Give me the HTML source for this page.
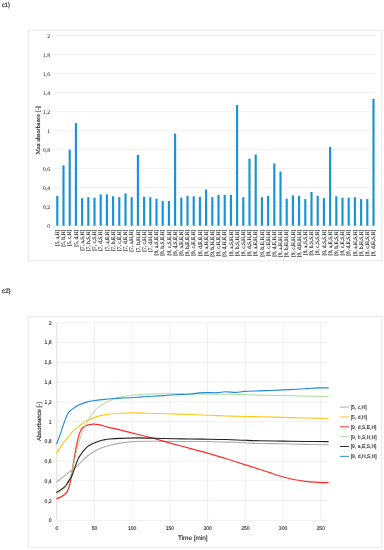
<!DOCTYPE html>
<html><head><meta charset="utf-8"><title>Figure c1 c2</title>
<style>html,body{margin:0;padding:0;background:#fff;}svg{display:block;}text{text-rendering:geometricPrecision;}</style>
</head><body>
<svg width="384" height="550" viewBox="0 0 384 550">
<rect width="384" height="550" fill="#fff"/>
<text transform="translate(2.10 6.50) scale(0.88 1)" text-anchor="start" font-family="'Liberation Sans', sans-serif" font-size="6.3" fill="#1a1a1a" stroke="#1a1a1a" stroke-width="0.2">c1)</text>
<text transform="translate(2.10 293.20) scale(0.97 1)" text-anchor="start" font-family="'Liberation Sans', sans-serif" font-size="6.3" fill="#1a1a1a" stroke="#1a1a1a" stroke-width="0.2">c2)</text>
<rect x="28.5" y="30.2" width="353.3" height="230.6" fill="none" stroke="#dedede" stroke-width="0.7"/>
<line x1="54.3" x2="376.2" y1="225.70" y2="225.70" stroke="#e6e6e6" stroke-width="0.6"/>
<text transform="translate(50.00 227.70)" text-anchor="end" font-family="'Liberation Serif', serif" font-size="5.6" fill="#333" stroke="#333" stroke-width="0.05">0</text>
<line x1="54.3" x2="376.2" y1="206.70" y2="206.70" stroke="#e6e6e6" stroke-width="0.6"/>
<text transform="translate(50.00 208.70)" text-anchor="end" font-family="'Liberation Serif', serif" font-size="5.6" fill="#333" stroke="#333" stroke-width="0.05">0,2</text>
<line x1="54.3" x2="376.2" y1="187.70" y2="187.70" stroke="#e6e6e6" stroke-width="0.6"/>
<text transform="translate(50.00 189.70)" text-anchor="end" font-family="'Liberation Serif', serif" font-size="5.6" fill="#333" stroke="#333" stroke-width="0.05">0,4</text>
<line x1="54.3" x2="376.2" y1="168.70" y2="168.70" stroke="#e6e6e6" stroke-width="0.6"/>
<text transform="translate(50.00 170.70)" text-anchor="end" font-family="'Liberation Serif', serif" font-size="5.6" fill="#333" stroke="#333" stroke-width="0.05">0,6</text>
<line x1="54.3" x2="376.2" y1="149.70" y2="149.70" stroke="#e6e6e6" stroke-width="0.6"/>
<text transform="translate(50.00 151.70)" text-anchor="end" font-family="'Liberation Serif', serif" font-size="5.6" fill="#333" stroke="#333" stroke-width="0.05">0,8</text>
<line x1="54.3" x2="376.2" y1="130.70" y2="130.70" stroke="#e6e6e6" stroke-width="0.6"/>
<text transform="translate(50.00 132.70)" text-anchor="end" font-family="'Liberation Serif', serif" font-size="5.6" fill="#333" stroke="#333" stroke-width="0.05">1</text>
<line x1="54.3" x2="376.2" y1="111.70" y2="111.70" stroke="#e6e6e6" stroke-width="0.6"/>
<text transform="translate(50.00 113.70)" text-anchor="end" font-family="'Liberation Serif', serif" font-size="5.6" fill="#333" stroke="#333" stroke-width="0.05">1,2</text>
<line x1="54.3" x2="376.2" y1="92.70" y2="92.70" stroke="#e6e6e6" stroke-width="0.6"/>
<text transform="translate(50.00 94.70)" text-anchor="end" font-family="'Liberation Serif', serif" font-size="5.6" fill="#333" stroke="#333" stroke-width="0.05">1,4</text>
<line x1="54.3" x2="376.2" y1="73.70" y2="73.70" stroke="#e6e6e6" stroke-width="0.6"/>
<text transform="translate(50.00 75.70)" text-anchor="end" font-family="'Liberation Serif', serif" font-size="5.6" fill="#333" stroke="#333" stroke-width="0.05">1,6</text>
<line x1="54.3" x2="376.2" y1="54.70" y2="54.70" stroke="#e6e6e6" stroke-width="0.6"/>
<text transform="translate(50.00 56.70)" text-anchor="end" font-family="'Liberation Serif', serif" font-size="5.6" fill="#333" stroke="#333" stroke-width="0.05">1,8</text>
<line x1="54.3" x2="376.2" y1="35.70" y2="35.70" stroke="#e6e6e6" stroke-width="0.6"/>
<text transform="translate(50.00 37.70)" text-anchor="end" font-family="'Liberation Serif', serif" font-size="5.6" fill="#333" stroke="#333" stroke-width="0.05">2</text>
<text transform="translate(40.30 130.40) rotate(-90)" text-anchor="middle" font-family="'Liberation Serif', serif" font-size="6.2" fill="#111" stroke="#111" stroke-width="0.12">Max absorbance [-]</text>
<rect x="56.25" y="195.77" width="2.1" height="29.93" fill="#1292d8"/>
<text transform="translate(58.90 229.60) rotate(-90)" text-anchor="end" font-family="'Liberation Serif', serif" font-size="5.45" fill="#222" stroke="#222" stroke-width="0.1">[5, a,H]</text>
<rect x="62.45" y="165.38" width="2.1" height="60.32" fill="#1292d8"/>
<text transform="translate(65.10 229.60) rotate(-90)" text-anchor="end" font-family="'Liberation Serif', serif" font-size="5.45" fill="#222" stroke="#222" stroke-width="0.1">[5, b,H]</text>
<rect x="68.65" y="149.70" width="2.1" height="76.00" fill="#1292d8"/>
<text transform="translate(71.30 229.60) rotate(-90)" text-anchor="end" font-family="'Liberation Serif', serif" font-size="5.45" fill="#222" stroke="#222" stroke-width="0.1">[5, c,H]</text>
<rect x="74.85" y="123.10" width="2.1" height="102.60" fill="#1292d8"/>
<text transform="translate(77.50 229.60) rotate(-90)" text-anchor="end" font-family="'Liberation Serif', serif" font-size="5.45" fill="#222" stroke="#222" stroke-width="0.1">[5, d,H]</text>
<rect x="81.05" y="198.15" width="2.1" height="27.55" fill="#1292d8"/>
<text transform="translate(83.70 229.60) rotate(-90)" text-anchor="end" font-family="'Liberation Serif', serif" font-size="5.45" fill="#222" stroke="#222" stroke-width="0.1">[7, a,S,H]</text>
<rect x="87.25" y="197.20" width="2.1" height="28.50" fill="#1292d8"/>
<text transform="translate(89.90 229.60) rotate(-90)" text-anchor="end" font-family="'Liberation Serif', serif" font-size="5.45" fill="#222" stroke="#222" stroke-width="0.1">[7, b,S,H]</text>
<rect x="93.45" y="197.67" width="2.1" height="28.03" fill="#1292d8"/>
<text transform="translate(96.10 229.60) rotate(-90)" text-anchor="end" font-family="'Liberation Serif', serif" font-size="5.45" fill="#222" stroke="#222" stroke-width="0.1">[7, c,S,H]</text>
<rect x="99.65" y="194.35" width="2.1" height="31.35" fill="#1292d8"/>
<text transform="translate(102.30 229.60) rotate(-90)" text-anchor="end" font-family="'Liberation Serif', serif" font-size="5.45" fill="#222" stroke="#222" stroke-width="0.1">[7, d,S,H]</text>
<rect x="105.85" y="194.35" width="2.1" height="31.35" fill="#1292d8"/>
<text transform="translate(108.50 229.60) rotate(-90)" text-anchor="end" font-family="'Liberation Serif', serif" font-size="5.45" fill="#222" stroke="#222" stroke-width="0.1">[7, a,E,H]</text>
<rect x="112.05" y="196.25" width="2.1" height="29.45" fill="#1292d8"/>
<text transform="translate(114.70 229.60) rotate(-90)" text-anchor="end" font-family="'Liberation Serif', serif" font-size="5.45" fill="#222" stroke="#222" stroke-width="0.1">[7, b,E,H]</text>
<rect x="118.25" y="197.20" width="2.1" height="28.50" fill="#1292d8"/>
<text transform="translate(120.90 229.60) rotate(-90)" text-anchor="end" font-family="'Liberation Serif', serif" font-size="5.45" fill="#222" stroke="#222" stroke-width="0.1">[7, c,E,H]</text>
<rect x="124.45" y="193.40" width="2.1" height="32.30" fill="#1292d8"/>
<text transform="translate(127.10 229.60) rotate(-90)" text-anchor="end" font-family="'Liberation Serif', serif" font-size="5.45" fill="#222" stroke="#222" stroke-width="0.1">[7, d,E,H]</text>
<rect x="130.65" y="197.20" width="2.1" height="28.50" fill="#1292d8"/>
<text transform="translate(133.30 229.60) rotate(-90)" text-anchor="end" font-family="'Liberation Serif', serif" font-size="5.45" fill="#222" stroke="#222" stroke-width="0.1">[7, a,H,H]</text>
<rect x="136.85" y="154.92" width="2.1" height="70.78" fill="#1292d8"/>
<text transform="translate(139.50 229.60) rotate(-90)" text-anchor="end" font-family="'Liberation Serif', serif" font-size="5.45" fill="#222" stroke="#222" stroke-width="0.1">[7, b,H,H]</text>
<rect x="143.05" y="196.72" width="2.1" height="28.97" fill="#1292d8"/>
<text transform="translate(145.70 229.60) rotate(-90)" text-anchor="end" font-family="'Liberation Serif', serif" font-size="5.45" fill="#222" stroke="#222" stroke-width="0.1">[7, c,H,H]</text>
<rect x="149.25" y="197.20" width="2.1" height="28.50" fill="#1292d8"/>
<text transform="translate(151.90 229.60) rotate(-90)" text-anchor="end" font-family="'Liberation Serif', serif" font-size="5.45" fill="#222" stroke="#222" stroke-width="0.1">[7, d,H,H]</text>
<rect x="155.45" y="198.62" width="2.1" height="27.07" fill="#1292d8"/>
<text transform="translate(158.10 229.60) rotate(-90)" text-anchor="end" font-family="'Liberation Serif', serif" font-size="5.45" fill="#222" stroke="#222" stroke-width="0.1">[9, a,S,E,H]</text>
<rect x="161.65" y="201.00" width="2.1" height="24.70" fill="#1292d8"/>
<text transform="translate(164.30 229.60) rotate(-90)" text-anchor="end" font-family="'Liberation Serif', serif" font-size="5.45" fill="#222" stroke="#222" stroke-width="0.1">[9, b,S,E,H]</text>
<rect x="167.85" y="201.00" width="2.1" height="24.70" fill="#1292d8"/>
<text transform="translate(170.50 229.60) rotate(-90)" text-anchor="end" font-family="'Liberation Serif', serif" font-size="5.45" fill="#222" stroke="#222" stroke-width="0.1">[9, c,S,E,H]</text>
<rect x="174.05" y="133.55" width="2.1" height="92.15" fill="#1292d8"/>
<text transform="translate(176.70 229.60) rotate(-90)" text-anchor="end" font-family="'Liberation Serif', serif" font-size="5.45" fill="#222" stroke="#222" stroke-width="0.1">[9, d,S,E,H]</text>
<rect x="180.25" y="197.67" width="2.1" height="28.03" fill="#1292d8"/>
<text transform="translate(182.90 229.60) rotate(-90)" text-anchor="end" font-family="'Liberation Serif', serif" font-size="5.45" fill="#222" stroke="#222" stroke-width="0.1">[9, a,E,E,H]</text>
<rect x="186.45" y="195.77" width="2.1" height="29.93" fill="#1292d8"/>
<text transform="translate(189.10 229.60) rotate(-90)" text-anchor="end" font-family="'Liberation Serif', serif" font-size="5.45" fill="#222" stroke="#222" stroke-width="0.1">[9, b,E,E,H]</text>
<rect x="192.65" y="196.25" width="2.1" height="29.45" fill="#1292d8"/>
<text transform="translate(195.30 229.60) rotate(-90)" text-anchor="end" font-family="'Liberation Serif', serif" font-size="5.45" fill="#222" stroke="#222" stroke-width="0.1">[9, c,E,E,H]</text>
<rect x="198.85" y="196.72" width="2.1" height="28.97" fill="#1292d8"/>
<text transform="translate(201.50 229.60) rotate(-90)" text-anchor="end" font-family="'Liberation Serif', serif" font-size="5.45" fill="#222" stroke="#222" stroke-width="0.1">[9, d,E,E,H]</text>
<rect x="205.05" y="189.60" width="2.1" height="36.10" fill="#1292d8"/>
<text transform="translate(207.70 229.60) rotate(-90)" text-anchor="end" font-family="'Liberation Serif', serif" font-size="5.45" fill="#222" stroke="#222" stroke-width="0.1">[9, a,H,E,H]</text>
<rect x="211.25" y="197.20" width="2.1" height="28.50" fill="#1292d8"/>
<text transform="translate(213.90 229.60) rotate(-90)" text-anchor="end" font-family="'Liberation Serif', serif" font-size="5.45" fill="#222" stroke="#222" stroke-width="0.1">[9, b,H,E,H]</text>
<rect x="217.45" y="194.82" width="2.1" height="30.88" fill="#1292d8"/>
<text transform="translate(220.10 229.60) rotate(-90)" text-anchor="end" font-family="'Liberation Serif', serif" font-size="5.45" fill="#222" stroke="#222" stroke-width="0.1">[9, c,H,E,H]</text>
<rect x="223.65" y="194.82" width="2.1" height="30.88" fill="#1292d8"/>
<text transform="translate(226.30 229.60) rotate(-90)" text-anchor="end" font-family="'Liberation Serif', serif" font-size="5.45" fill="#222" stroke="#222" stroke-width="0.1">[9, d,H,E,H]</text>
<rect x="229.85" y="194.82" width="2.1" height="30.88" fill="#1292d8"/>
<text transform="translate(232.50 229.60) rotate(-90)" text-anchor="end" font-family="'Liberation Serif', serif" font-size="5.45" fill="#222" stroke="#222" stroke-width="0.1">[9, a,S,H,H]</text>
<rect x="236.05" y="105.05" width="2.1" height="120.65" fill="#1292d8"/>
<text transform="translate(238.70 229.60) rotate(-90)" text-anchor="end" font-family="'Liberation Serif', serif" font-size="5.45" fill="#222" stroke="#222" stroke-width="0.1">[9, b,S,H,H]</text>
<rect x="242.25" y="197.20" width="2.1" height="28.50" fill="#1292d8"/>
<text transform="translate(244.90 229.60) rotate(-90)" text-anchor="end" font-family="'Liberation Serif', serif" font-size="5.45" fill="#222" stroke="#222" stroke-width="0.1">[9, c,S,H,H]</text>
<rect x="248.45" y="158.72" width="2.1" height="66.97" fill="#1292d8"/>
<text transform="translate(251.10 229.60) rotate(-90)" text-anchor="end" font-family="'Liberation Serif', serif" font-size="5.45" fill="#222" stroke="#222" stroke-width="0.1">[9, d,S,H,H]</text>
<rect x="254.65" y="154.45" width="2.1" height="71.25" fill="#1292d8"/>
<text transform="translate(257.30 229.60) rotate(-90)" text-anchor="end" font-family="'Liberation Serif', serif" font-size="5.45" fill="#222" stroke="#222" stroke-width="0.1">[9, a,E,H,H]</text>
<rect x="260.85" y="197.20" width="2.1" height="28.50" fill="#1292d8"/>
<text transform="translate(263.50 229.60) rotate(-90)" text-anchor="end" font-family="'Liberation Serif', serif" font-size="5.45" fill="#222" stroke="#222" stroke-width="0.1">[9, b,E,H,H]</text>
<rect x="267.05" y="195.77" width="2.1" height="29.93" fill="#1292d8"/>
<text transform="translate(269.70 229.60) rotate(-90)" text-anchor="end" font-family="'Liberation Serif', serif" font-size="5.45" fill="#222" stroke="#222" stroke-width="0.1">[9, c,E,H,H]</text>
<rect x="273.25" y="163.47" width="2.1" height="62.22" fill="#1292d8"/>
<text transform="translate(275.90 229.60) rotate(-90)" text-anchor="end" font-family="'Liberation Serif', serif" font-size="5.45" fill="#222" stroke="#222" stroke-width="0.1">[9, d,E,H,H]</text>
<rect x="279.45" y="171.55" width="2.1" height="54.15" fill="#1292d8"/>
<text transform="translate(282.10 229.60) rotate(-90)" text-anchor="end" font-family="'Liberation Serif', serif" font-size="5.45" fill="#222" stroke="#222" stroke-width="0.1">[9, a,H,H,H]</text>
<rect x="285.65" y="198.62" width="2.1" height="27.07" fill="#1292d8"/>
<text transform="translate(288.30 229.60) rotate(-90)" text-anchor="end" font-family="'Liberation Serif', serif" font-size="5.45" fill="#222" stroke="#222" stroke-width="0.1">[9, b,H,H,H]</text>
<rect x="291.85" y="195.30" width="2.1" height="30.40" fill="#1292d8"/>
<text transform="translate(294.50 229.60) rotate(-90)" text-anchor="end" font-family="'Liberation Serif', serif" font-size="5.45" fill="#222" stroke="#222" stroke-width="0.1">[9, c,H,H,H]</text>
<rect x="298.05" y="195.77" width="2.1" height="29.93" fill="#1292d8"/>
<text transform="translate(300.70 229.60) rotate(-90)" text-anchor="end" font-family="'Liberation Serif', serif" font-size="5.45" fill="#222" stroke="#222" stroke-width="0.1">[9, d,H,H,H]</text>
<rect x="304.25" y="199.10" width="2.1" height="26.60" fill="#1292d8"/>
<text transform="translate(306.90 229.60) rotate(-90)" text-anchor="end" font-family="'Liberation Serif', serif" font-size="5.45" fill="#222" stroke="#222" stroke-width="0.1">[9, a,S,S,H]</text>
<rect x="310.45" y="191.97" width="2.1" height="33.72" fill="#1292d8"/>
<text transform="translate(313.10 229.60) rotate(-90)" text-anchor="end" font-family="'Liberation Serif', serif" font-size="5.45" fill="#222" stroke="#222" stroke-width="0.1">[9, b,S,S,H]</text>
<rect x="316.65" y="195.77" width="2.1" height="29.93" fill="#1292d8"/>
<text transform="translate(319.30 229.60) rotate(-90)" text-anchor="end" font-family="'Liberation Serif', serif" font-size="5.45" fill="#222" stroke="#222" stroke-width="0.1">[9, c,S,S,H]</text>
<rect x="322.85" y="198.15" width="2.1" height="27.55" fill="#1292d8"/>
<text transform="translate(325.50 229.60) rotate(-90)" text-anchor="end" font-family="'Liberation Serif', serif" font-size="5.45" fill="#222" stroke="#222" stroke-width="0.1">[9, d,S,S,H]</text>
<rect x="329.05" y="146.85" width="2.1" height="78.85" fill="#1292d8"/>
<text transform="translate(331.70 229.60) rotate(-90)" text-anchor="end" font-family="'Liberation Serif', serif" font-size="5.45" fill="#222" stroke="#222" stroke-width="0.1">[9, a,E,S,H]</text>
<rect x="335.25" y="196.25" width="2.1" height="29.45" fill="#1292d8"/>
<text transform="translate(337.90 229.60) rotate(-90)" text-anchor="end" font-family="'Liberation Serif', serif" font-size="5.45" fill="#222" stroke="#222" stroke-width="0.1">[9, b,E,S,H]</text>
<rect x="341.45" y="197.67" width="2.1" height="28.03" fill="#1292d8"/>
<text transform="translate(344.10 229.60) rotate(-90)" text-anchor="end" font-family="'Liberation Serif', serif" font-size="5.45" fill="#222" stroke="#222" stroke-width="0.1">[9, c,E,S,H]</text>
<rect x="347.65" y="197.67" width="2.1" height="28.03" fill="#1292d8"/>
<text transform="translate(350.30 229.60) rotate(-90)" text-anchor="end" font-family="'Liberation Serif', serif" font-size="5.45" fill="#222" stroke="#222" stroke-width="0.1">[9, d,E,S,H]</text>
<rect x="353.85" y="197.20" width="2.1" height="28.50" fill="#1292d8"/>
<text transform="translate(356.50 229.60) rotate(-90)" text-anchor="end" font-family="'Liberation Serif', serif" font-size="5.45" fill="#222" stroke="#222" stroke-width="0.1">[9, a,H,S,H]</text>
<rect x="360.05" y="199.10" width="2.1" height="26.60" fill="#1292d8"/>
<text transform="translate(362.70 229.60) rotate(-90)" text-anchor="end" font-family="'Liberation Serif', serif" font-size="5.45" fill="#222" stroke="#222" stroke-width="0.1">[9, b,H,S,H]</text>
<rect x="366.25" y="199.10" width="2.1" height="26.60" fill="#1292d8"/>
<text transform="translate(368.90 229.60) rotate(-90)" text-anchor="end" font-family="'Liberation Serif', serif" font-size="5.45" fill="#222" stroke="#222" stroke-width="0.1">[9, c,H,S,H]</text>
<rect x="372.45" y="98.87" width="2.1" height="126.83" fill="#1292d8"/>
<text transform="translate(375.10 229.60) rotate(-90)" text-anchor="end" font-family="'Liberation Serif', serif" font-size="5.45" fill="#222" stroke="#222" stroke-width="0.1">[9, d,H,S,H]</text>
<rect x="28.5" y="316.7" width="353.3" height="230.5" fill="none" stroke="#dedede" stroke-width="0.7"/>
<line x1="56.8" x2="328.3" y1="520.40" y2="520.40" stroke="#e6e6e6" stroke-width="0.6"/>
<text transform="translate(51.60 522.30) scale(0.95 1)" text-anchor="end" font-family="'Liberation Sans', sans-serif" font-size="5.3" fill="#262626" stroke="#262626" stroke-width="0.12">0</text>
<line x1="56.8" x2="328.3" y1="500.64" y2="500.64" stroke="#e6e6e6" stroke-width="0.6"/>
<text transform="translate(51.60 502.54) scale(0.95 1)" text-anchor="end" font-family="'Liberation Sans', sans-serif" font-size="5.3" fill="#262626" stroke="#262626" stroke-width="0.12">0,2</text>
<line x1="56.8" x2="328.3" y1="480.88" y2="480.88" stroke="#e6e6e6" stroke-width="0.6"/>
<text transform="translate(51.60 482.78) scale(0.95 1)" text-anchor="end" font-family="'Liberation Sans', sans-serif" font-size="5.3" fill="#262626" stroke="#262626" stroke-width="0.12">0,4</text>
<line x1="56.8" x2="328.3" y1="461.12" y2="461.12" stroke="#e6e6e6" stroke-width="0.6"/>
<text transform="translate(51.60 463.02) scale(0.95 1)" text-anchor="end" font-family="'Liberation Sans', sans-serif" font-size="5.3" fill="#262626" stroke="#262626" stroke-width="0.12">0,6</text>
<line x1="56.8" x2="328.3" y1="441.36" y2="441.36" stroke="#e6e6e6" stroke-width="0.6"/>
<text transform="translate(51.60 443.26) scale(0.95 1)" text-anchor="end" font-family="'Liberation Sans', sans-serif" font-size="5.3" fill="#262626" stroke="#262626" stroke-width="0.12">0,8</text>
<line x1="56.8" x2="328.3" y1="421.60" y2="421.60" stroke="#e6e6e6" stroke-width="0.6"/>
<text transform="translate(51.60 423.50) scale(0.95 1)" text-anchor="end" font-family="'Liberation Sans', sans-serif" font-size="5.3" fill="#262626" stroke="#262626" stroke-width="0.12">1</text>
<line x1="56.8" x2="328.3" y1="401.84" y2="401.84" stroke="#e6e6e6" stroke-width="0.6"/>
<text transform="translate(51.60 403.74) scale(0.95 1)" text-anchor="end" font-family="'Liberation Sans', sans-serif" font-size="5.3" fill="#262626" stroke="#262626" stroke-width="0.12">1,2</text>
<line x1="56.8" x2="328.3" y1="382.08" y2="382.08" stroke="#e6e6e6" stroke-width="0.6"/>
<text transform="translate(51.60 383.98) scale(0.95 1)" text-anchor="end" font-family="'Liberation Sans', sans-serif" font-size="5.3" fill="#262626" stroke="#262626" stroke-width="0.12">1,4</text>
<line x1="56.8" x2="328.3" y1="362.32" y2="362.32" stroke="#e6e6e6" stroke-width="0.6"/>
<text transform="translate(51.60 364.22) scale(0.95 1)" text-anchor="end" font-family="'Liberation Sans', sans-serif" font-size="5.3" fill="#262626" stroke="#262626" stroke-width="0.12">1,6</text>
<line x1="56.8" x2="328.3" y1="342.56" y2="342.56" stroke="#e6e6e6" stroke-width="0.6"/>
<text transform="translate(51.60 344.46) scale(0.95 1)" text-anchor="end" font-family="'Liberation Sans', sans-serif" font-size="5.3" fill="#262626" stroke="#262626" stroke-width="0.12">1,8</text>
<line x1="56.8" x2="328.3" y1="322.80" y2="322.80" stroke="#e6e6e6" stroke-width="0.6"/>
<text transform="translate(51.60 324.70) scale(0.95 1)" text-anchor="end" font-family="'Liberation Sans', sans-serif" font-size="5.3" fill="#262626" stroke="#262626" stroke-width="0.12">2</text>
<line x1="56.80" x2="56.80" y1="322.8" y2="520.4" stroke="#e6e6e6" stroke-width="0.6"/>
<text transform="translate(56.80 529.90) scale(0.95 1)" text-anchor="middle" font-family="'Liberation Sans', sans-serif" font-size="5.3" fill="#262626" stroke="#262626" stroke-width="0.12">0</text>
<line x1="94.51" x2="94.51" y1="322.8" y2="520.4" stroke="#e6e6e6" stroke-width="0.6"/>
<text transform="translate(94.51 529.90) scale(0.95 1)" text-anchor="middle" font-family="'Liberation Sans', sans-serif" font-size="5.3" fill="#262626" stroke="#262626" stroke-width="0.12">50</text>
<line x1="132.22" x2="132.22" y1="322.8" y2="520.4" stroke="#e6e6e6" stroke-width="0.6"/>
<text transform="translate(132.22 529.90) scale(0.95 1)" text-anchor="middle" font-family="'Liberation Sans', sans-serif" font-size="5.3" fill="#262626" stroke="#262626" stroke-width="0.12">100</text>
<line x1="169.93" x2="169.93" y1="322.8" y2="520.4" stroke="#e6e6e6" stroke-width="0.6"/>
<text transform="translate(169.93 529.90) scale(0.95 1)" text-anchor="middle" font-family="'Liberation Sans', sans-serif" font-size="5.3" fill="#262626" stroke="#262626" stroke-width="0.12">150</text>
<line x1="207.63" x2="207.63" y1="322.8" y2="520.4" stroke="#e6e6e6" stroke-width="0.6"/>
<text transform="translate(207.63 529.90) scale(0.95 1)" text-anchor="middle" font-family="'Liberation Sans', sans-serif" font-size="5.3" fill="#262626" stroke="#262626" stroke-width="0.12">200</text>
<line x1="245.34" x2="245.34" y1="322.8" y2="520.4" stroke="#e6e6e6" stroke-width="0.6"/>
<text transform="translate(245.34 529.90) scale(0.95 1)" text-anchor="middle" font-family="'Liberation Sans', sans-serif" font-size="5.3" fill="#262626" stroke="#262626" stroke-width="0.12">250</text>
<line x1="283.05" x2="283.05" y1="322.8" y2="520.4" stroke="#e6e6e6" stroke-width="0.6"/>
<text transform="translate(283.05 529.90) scale(0.95 1)" text-anchor="middle" font-family="'Liberation Sans', sans-serif" font-size="5.3" fill="#262626" stroke="#262626" stroke-width="0.12">300</text>
<line x1="320.76" x2="320.76" y1="322.8" y2="520.4" stroke="#e6e6e6" stroke-width="0.6"/>
<text transform="translate(320.76 529.90) scale(0.95 1)" text-anchor="middle" font-family="'Liberation Sans', sans-serif" font-size="5.3" fill="#262626" stroke="#262626" stroke-width="0.12">350</text>
<line x1="56.8" x2="56.8" y1="322.8" y2="520.4" stroke="#d6d6d6" stroke-width="0.6"/>
<text transform="translate(41.30 421.60) rotate(-90)" text-anchor="middle" font-family="'Liberation Sans', sans-serif" font-size="6" fill="#222" stroke="#222" stroke-width="0.12">Absorbance [-]</text>
<text transform="translate(192.80 539.60)" text-anchor="middle" font-family="'Liberation Sans', sans-serif" font-size="6.4" fill="#222" stroke="#222" stroke-width="0.12">Time [min]</text>
<path d="M56.75 481.90 C57.44 481.35 59.44 479.75 60.90 478.60 C62.36 477.45 64.28 475.97 65.50 475.00 C66.72 474.03 66.53 474.07 68.20 472.80 C69.87 471.53 73.02 469.53 75.50 467.40 C77.98 465.27 81.05 461.93 83.10 460.00 C85.15 458.07 86.37 456.97 87.80 455.80 C89.23 454.63 90.59 453.72 91.70 453.00 C92.81 452.28 93.15 452.21 94.45 451.50 C95.75 450.79 98.01 449.47 99.50 448.75 C100.99 448.03 101.65 447.79 103.40 447.20 C105.15 446.61 107.23 445.85 110.00 445.20 C112.77 444.55 117.42 443.75 120.00 443.30 C122.58 442.85 123.37 442.78 125.50 442.50 C127.63 442.22 129.17 441.82 132.80 441.60 C136.43 441.38 141.83 441.23 147.30 441.20 C152.77 441.17 158.48 441.35 165.60 441.40 C172.72 441.45 182.90 441.48 190.00 441.50 C197.10 441.52 202.12 441.40 208.20 441.50 C214.28 441.60 220.42 441.88 226.50 442.10 C232.58 442.32 239.12 442.57 244.70 442.80 C250.28 443.03 253.65 443.33 260.00 443.50 C266.35 443.67 275.20 443.66 282.80 443.80 C290.40 443.94 298.03 444.20 305.60 444.35 C313.17 444.50 324.43 444.64 328.20 444.70" fill="none" stroke="#adadad" stroke-width="1.1" stroke-linecap="round" stroke-linejoin="round"/>
<path d="M56.75 452.80 C57.44 451.73 59.44 448.53 60.90 446.40 C62.36 444.27 63.98 441.97 65.50 440.00 C67.03 438.03 68.68 436.23 70.05 434.60 C71.42 432.97 72.17 431.63 73.70 430.20 C75.23 428.77 77.07 427.52 79.20 426.00 C81.33 424.48 83.92 422.53 86.50 421.10 C89.08 419.67 91.97 418.40 94.70 417.40 C97.43 416.40 100.02 415.70 102.90 415.10 C105.78 414.50 109.15 414.11 112.00 413.80 C114.85 413.49 116.53 413.40 120.00 413.25 C123.47 413.10 128.25 412.90 132.80 412.90 C137.35 412.90 141.83 413.10 147.30 413.25 C152.77 413.40 158.48 413.59 165.60 413.80 C172.72 414.01 182.90 414.26 190.00 414.50 C197.10 414.74 202.12 415.00 208.20 415.25 C214.28 415.50 220.42 415.79 226.50 416.00 C232.58 416.21 239.12 416.38 244.70 416.50 C250.28 416.62 253.65 416.55 260.00 416.70 C266.35 416.85 275.20 417.18 282.80 417.40 C290.40 417.62 298.03 417.82 305.60 418.00 C313.17 418.18 324.43 418.42 328.20 418.50" fill="none" stroke="#ffc61e" stroke-width="1.15" stroke-linecap="round" stroke-linejoin="round"/>
<path d="M56.75 498.70 C57.44 498.40 59.59 497.60 60.90 496.90 C62.21 496.20 63.53 495.42 64.60 494.50 C65.67 493.58 66.55 492.68 67.30 491.40 C68.05 490.12 68.58 488.47 69.10 486.80 C69.62 485.13 69.92 483.87 70.40 481.40 C70.88 478.93 71.38 475.70 72.00 472.00 C72.62 468.30 73.43 463.17 74.10 459.20 C74.77 455.23 75.30 451.85 76.00 448.20 C76.70 444.55 77.57 440.13 78.30 437.30 C79.03 434.47 79.73 432.75 80.40 431.20 C81.07 429.65 81.23 428.97 82.30 428.00 C83.37 427.03 85.05 426.03 86.80 425.40 C88.55 424.77 90.73 424.32 92.80 424.20 C94.87 424.08 96.62 424.18 99.20 424.70 C101.78 425.22 104.83 426.43 108.30 427.30 C111.77 428.17 115.02 428.70 120.00 429.90 C124.98 431.10 132.43 433.05 138.20 434.50 C143.97 435.95 149.13 437.13 154.60 438.60 C160.07 440.07 165.10 441.67 171.00 443.30 C176.90 444.93 183.80 446.73 190.00 448.40 C196.20 450.07 202.12 451.57 208.20 453.30 C214.28 455.03 220.42 456.92 226.50 458.80 C232.58 460.68 239.12 462.82 244.70 464.60 C250.28 466.38 255.93 468.20 260.00 469.50 C264.07 470.80 266.07 471.40 269.10 472.40 C272.13 473.40 275.17 474.57 278.20 475.50 C281.23 476.43 284.25 477.25 287.30 478.00 C290.35 478.75 293.45 479.45 296.50 480.00 C299.55 480.55 302.57 480.93 305.60 481.30 C308.63 481.67 311.97 481.98 314.70 482.20 C317.43 482.42 319.75 482.53 322.00 482.60 C324.25 482.67 327.17 482.60 328.20 482.60" fill="none" stroke="#ff2d2d" stroke-width="1.2" stroke-linecap="round" stroke-linejoin="round"/>
<path d="M56.75 493.80 C57.44 493.40 59.59 492.25 60.90 491.40 C62.21 490.55 63.53 489.77 64.60 488.70 C65.67 487.63 66.55 486.37 67.30 485.00 C68.05 483.63 68.45 482.38 69.10 480.50 C69.75 478.62 70.48 476.20 71.20 473.70 C71.92 471.20 72.67 468.53 73.40 465.50 C74.13 462.47 74.87 458.68 75.60 455.50 C76.33 452.32 76.93 449.57 77.80 446.40 C78.67 443.23 79.77 439.45 80.80 436.50 C81.83 433.55 82.90 431.20 84.00 428.70 C85.10 426.20 86.37 423.47 87.40 421.50 C88.43 419.53 88.95 418.73 90.20 416.90 C91.45 415.07 93.23 412.32 94.90 410.50 C96.57 408.68 98.45 407.30 100.20 406.00 C101.95 404.70 103.43 403.75 105.40 402.70 C107.37 401.65 109.57 400.62 112.00 399.70 C114.43 398.78 116.85 397.92 120.00 397.20 C123.15 396.48 127.25 395.85 130.90 395.40 C134.55 394.95 137.63 394.75 141.90 394.50 C146.17 394.25 151.03 394.02 156.50 393.90 C161.97 393.77 169.12 393.72 174.70 393.75 C180.28 393.78 184.42 394.04 190.00 394.10 C195.58 394.16 202.12 394.08 208.20 394.10 C214.28 394.12 220.42 394.10 226.50 394.20 C232.58 394.30 239.12 394.55 244.70 394.70 C250.28 394.85 253.65 394.95 260.00 395.10 C266.35 395.25 275.20 395.43 282.80 395.60 C290.40 395.77 298.03 395.95 305.60 396.10 C313.17 396.25 324.43 396.43 328.20 396.50" fill="none" stroke="#a8dc96" stroke-width="1.0" stroke-linecap="round" stroke-linejoin="round"/>
<path d="M56.75 492.30 C57.44 491.85 59.59 490.52 60.90 489.60 C62.21 488.68 63.53 487.87 64.60 486.80 C65.67 485.73 66.47 484.40 67.30 483.20 C68.13 482.00 68.83 480.80 69.60 479.60 C70.37 478.40 71.23 477.40 71.90 476.00 C72.57 474.60 73.04 472.83 73.60 471.20 C74.16 469.57 74.48 468.28 75.25 466.20 C76.02 464.12 77.31 460.60 78.20 458.70 C79.09 456.80 79.65 456.20 80.60 454.80 C81.55 453.40 82.70 451.70 83.90 450.30 C85.10 448.90 86.50 447.43 87.80 446.40 C89.10 445.37 90.59 444.68 91.70 444.10 C92.81 443.52 93.15 443.43 94.45 442.90 C95.75 442.37 98.01 441.38 99.50 440.90 C100.99 440.42 101.65 440.32 103.40 440.00 C105.15 439.68 107.23 439.27 110.00 439.00 C112.77 438.73 115.30 438.58 120.00 438.40 C124.70 438.22 132.12 437.92 138.20 437.90 C144.28 437.88 150.42 438.17 156.50 438.30 C162.58 438.43 169.12 438.58 174.70 438.70 C180.28 438.82 184.42 438.92 190.00 439.00 C195.58 439.08 202.12 439.11 208.20 439.20 C214.28 439.29 220.42 439.37 226.50 439.55 C232.58 439.73 239.12 440.09 244.70 440.30 C250.28 440.51 253.65 440.67 260.00 440.80 C266.35 440.93 275.20 440.99 282.80 441.10 C290.40 441.21 298.03 441.37 305.60 441.45 C313.17 441.53 324.43 441.57 328.20 441.60" fill="none" stroke="#222" stroke-width="1.1" stroke-linecap="round" stroke-linejoin="round"/>
<path d="M56.75 443.70 C57.31 442.18 59.06 437.55 60.10 434.60 C61.14 431.65 62.08 428.67 63.00 426.00 C63.92 423.33 64.83 420.60 65.60 418.60 C66.37 416.60 66.86 415.28 67.60 414.00 C68.34 412.72 69.03 411.88 70.05 410.90 C71.07 409.92 72.17 409.12 73.70 408.10 C75.23 407.08 77.07 405.80 79.20 404.80 C81.33 403.80 83.92 402.82 86.50 402.10 C89.08 401.38 91.67 400.95 94.70 400.50 C97.73 400.05 101.52 399.73 104.70 399.40 C107.88 399.07 111.25 398.72 113.80 398.50 C116.35 398.28 117.15 398.22 120.00 398.10 C122.85 397.98 127.25 398.01 130.90 397.80 C134.55 397.59 138.25 397.10 141.90 396.85 C145.55 396.60 149.16 396.51 152.80 396.30 C156.44 396.09 160.10 395.87 163.75 395.60 C167.40 395.33 170.32 394.97 174.70 394.70 C179.07 394.43 185.93 394.30 190.00 394.00 C194.07 393.70 196.15 393.12 199.10 392.90 C202.05 392.67 204.67 392.69 207.70 392.65 C210.73 392.61 214.33 392.80 217.30 392.65 C220.27 392.50 222.38 391.79 225.50 391.75 C228.62 391.71 232.80 392.46 236.00 392.40 C239.20 392.34 240.70 391.65 244.70 391.40 C248.70 391.15 255.63 391.05 260.00 390.90 C264.37 390.75 267.10 390.67 270.90 390.50 C274.70 390.33 278.53 390.12 282.80 389.90 C287.07 389.68 292.40 389.42 296.50 389.20 C300.60 388.98 303.77 388.82 307.40 388.60 C311.03 388.38 314.83 388.02 318.30 387.90 C321.77 387.78 326.55 387.90 328.20 387.90" fill="none" stroke="#2389d7" stroke-width="1.12" stroke-linecap="round" stroke-linejoin="round"/>
<line x1="340" x2="349.1" y1="407.10" y2="407.10" stroke="#adadad" stroke-width="0.95"/>
<text transform="translate(350.70 409.00) scale(0.95 1)" text-anchor="start" font-family="'Liberation Sans', sans-serif" font-size="5.3" fill="#262626" stroke="#262626" stroke-width="0.12">[5, c,H]</text>
<line x1="340" x2="349.1" y1="416.95" y2="416.95" stroke="#ffc61e" stroke-width="0.95"/>
<text transform="translate(350.70 418.85) scale(0.95 1)" text-anchor="start" font-family="'Liberation Sans', sans-serif" font-size="5.3" fill="#262626" stroke="#262626" stroke-width="0.12">[5, d,H]</text>
<line x1="340" x2="349.1" y1="426.80" y2="426.80" stroke="#ff2d2d" stroke-width="0.95"/>
<text transform="translate(350.70 428.70) scale(0.95 1)" text-anchor="start" font-family="'Liberation Sans', sans-serif" font-size="5.3" fill="#262626" stroke="#262626" stroke-width="0.12">[9, d,S,E,H]</text>
<line x1="340" x2="349.1" y1="436.65" y2="436.65" stroke="#a8dc96" stroke-width="0.95"/>
<text transform="translate(350.70 438.55) scale(0.95 1)" text-anchor="start" font-family="'Liberation Sans', sans-serif" font-size="5.3" fill="#262626" stroke="#262626" stroke-width="0.12">[9, b,S,H,H]</text>
<line x1="340" x2="349.1" y1="446.50" y2="446.50" stroke="#222" stroke-width="0.95"/>
<text transform="translate(350.70 448.40) scale(0.95 1)" text-anchor="start" font-family="'Liberation Sans', sans-serif" font-size="5.3" fill="#262626" stroke="#262626" stroke-width="0.12">[9, a,E,S,H]</text>
<line x1="340" x2="349.1" y1="456.35" y2="456.35" stroke="#2389d7" stroke-width="0.95"/>
<text transform="translate(350.70 458.25) scale(0.95 1)" text-anchor="start" font-family="'Liberation Sans', sans-serif" font-size="5.3" fill="#262626" stroke="#262626" stroke-width="0.12">[9, d,H,S,H]</text>
</svg>
</body></html>
